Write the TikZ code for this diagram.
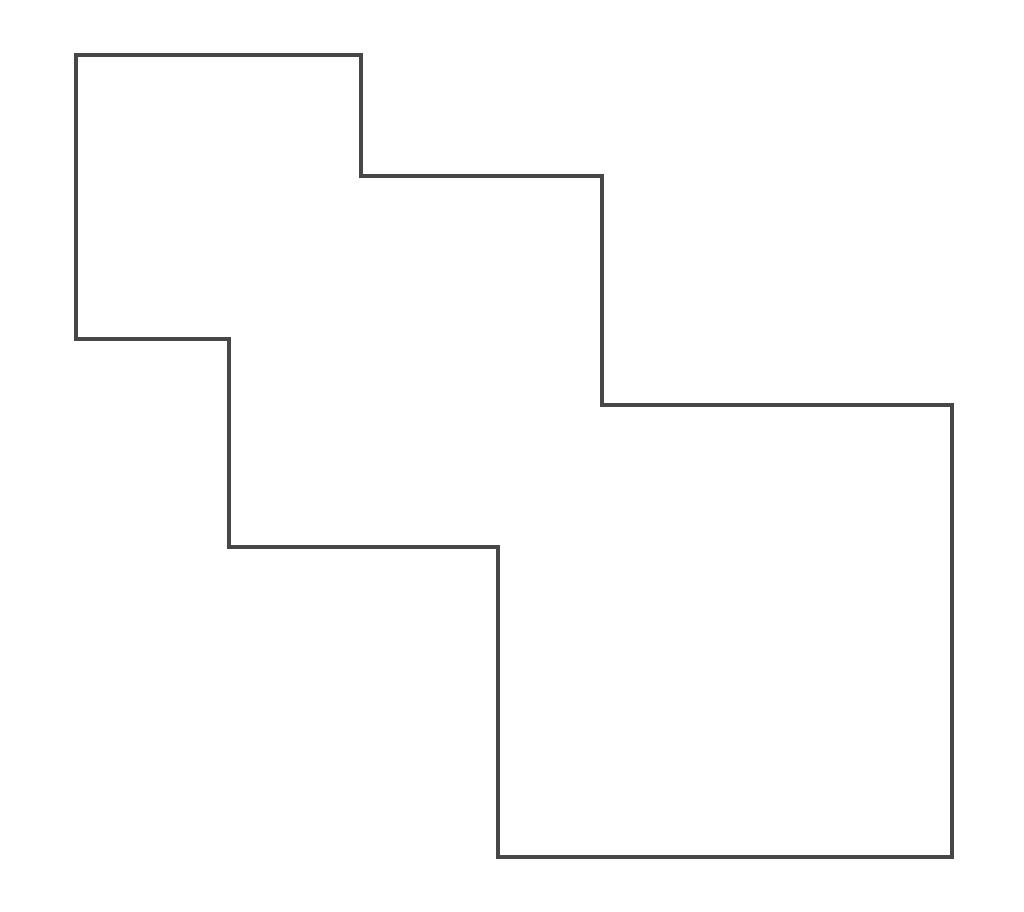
\documentclass[tikz,border=0pt]{standalone}
\begin{document}
\begin{tikzpicture}[x=1pt,y=-1pt]
\definecolor{edgegray}{HTML}{474747}
\tikzset{outline/.style={draw=edgegray,line width=3.4pt,line join=miter}}
\useasboundingbox[fill=white] (0,0) rectangle (1024,911);
\coordinate (p1) at (76,55);
\coordinate (p2) at (361,55);
\coordinate (p3) at (361,176);
\coordinate (p4) at (602,176);
\coordinate (p5) at (602,405);
\coordinate (p6) at (952,405);
\coordinate (p7) at (952,857);
\coordinate (p8) at (498,857);
\coordinate (p9) at (498,547);
\coordinate (p10) at (229,547);
\coordinate (p11) at (229,339);
\coordinate (p12) at (76,339);
\draw[outline] (p1) -- (p2) -- (p3) -- (p4) -- (p5) -- (p6) -- (p7) -- (p8) -- (p9) -- (p10) -- (p11) -- (p12) -- cycle;
\end{tikzpicture}
\end{document}
